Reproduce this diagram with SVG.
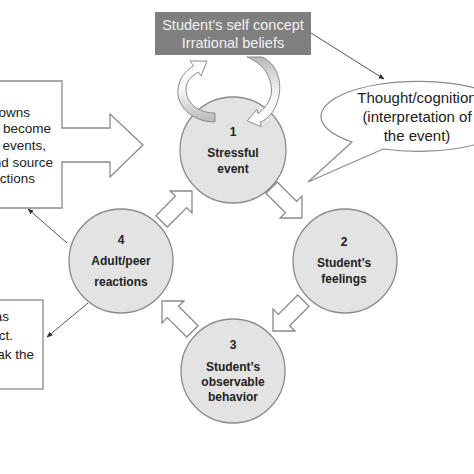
<svg xmlns="http://www.w3.org/2000/svg" width="474" height="474" viewBox="0 0 474 474">
<style>
.bg{fill:#ffffff}
.circ{fill:#e3e3e3;stroke:#8a8a8a;stroke-width:1.3}
.blk{fill:#ffffff;stroke:#8a8a8a;stroke-width:1.3;stroke-linejoin:miter}
.box{fill:#ffffff;stroke:#8a8a8a;stroke-width:1.3}
.thin{fill:none;stroke:#404040;stroke-width:0.9}
.ct{font-family:"Liberation Sans",Arial,sans-serif;font-weight:bold;font-size:12px;fill:#222222;text-anchor:middle}
.tx{font-family:"Liberation Sans",Arial,sans-serif;font-size:13.5px;fill:#222222}
.bt{font-family:"Liberation Sans",Arial,sans-serif;font-size:15px;fill:#222222;text-anchor:middle}
.gt{font-family:"Liberation Sans",Arial,sans-serif;font-size:14.5px;fill:#f2f2f2;text-anchor:middle}
.curl{stroke:#808080;stroke-width:0.9}
</style>
<defs>
<marker id="ah" viewBox="0 0 10 10" refX="9" refY="5" markerWidth="6" markerHeight="6" orient="auto" markerUnits="userSpaceOnUse">
<path d="M0,1 L10,5 L0,9 Z" fill="#303030"/>
</marker>
<linearGradient id="cgL" x1="0" y1="0" x2="0" y2="1">
<stop offset="0" stop-color="#ffffff"/>
<stop offset="0.5" stop-color="#f4f4f4"/>
<stop offset="1" stop-color="#b8b8b8"/>
</linearGradient>
<linearGradient id="cgR" x1="0" y1="0" x2="0" y2="1">
<stop offset="0" stop-color="#b8b8b8"/>
<stop offset="0.5" stop-color="#f4f4f4"/>
<stop offset="1" stop-color="#ffffff"/>
</linearGradient>
<path id="barrow" d="M-43,-8 L-15.5,-8 L-15.5,-15.5 L0,0 L-15.5,15.5 L-15.5,8 L-43,8 Z"/>
</defs>
<rect class="bg" x="0" y="0" width="474" height="474"/>

<g id="selfconcept">
<rect x="155" y="12" width="156" height="43" fill="#7f7f7f"/>
<text class="gt" x="233" y="30">Student’s self concept</text>
<text class="gt" x="233" y="48">Irrational beliefs</text>
</g>

<g id="thought">
<path d="M352,142 L308,182 L383,149 A97,35 0 1,0 352,142 Z" fill="#ffffff" stroke="#8a8a8a" stroke-width="1.2"/>
<text class="bt" x="417" y="103">Thought/cognition</text>
<text class="bt" x="417" y="122">(interpretation of</text>
<text class="bt" x="417" y="141">the event)</text>
</g>

<g id="leftbox">
<path class="box" d="M-2,81 L62,81 L62,128 L110,128 L110,114 L143,145 L110,177 L110,162 L62,162 L62,208 L-2,208 Z"/>
<text class="tx" x="30" y="116.5" text-anchor="end">owns</text>
<text class="tx" x="51" y="132.5" text-anchor="end">y become</text>
<text class="tx" x="46" y="149.5" text-anchor="end">events,</text>
<text class="tx" x="53" y="167" text-anchor="end">nd source</text>
<text class="tx" x="35" y="182.5" text-anchor="end">ctions</text>
</g>

<g id="lowerbox">
<rect class="box" x="-2" y="300" width="45" height="89"/>
<text class="tx" x="9" y="320.5" text-anchor="end">as</text>
<text class="tx" x="13" y="340" text-anchor="end">ct.</text>
<text class="tx" x="34" y="358.5" text-anchor="end">ak the</text>
</g>

<g id="node1">
<circle class="circ" cx="233" cy="150" r="53"/>
<text class="ct" x="233" y="136">1</text>
<text class="ct" x="233" y="156.5">Stressful</text>
<text class="ct" x="233" y="172.5">event</text>
</g>

<g id="node2">
<circle class="circ" cx="345" cy="261" r="52"/>
<text class="ct" x="344" y="246">2</text>
<text class="ct" x="344" y="267">Student’s</text>
<text class="ct" x="344" y="283">feelings</text>
</g>

<g id="node3">
<circle class="circ" cx="233" cy="371" r="52"/>
<text class="ct" x="233" y="349">3</text>
<text class="ct" x="233" y="371">Student’s</text>
<text class="ct" x="233" y="386">observable</text>
<text class="ct" x="233" y="401">behavior</text>
</g>

<g id="node4">
<circle class="circ" cx="121" cy="261" r="52"/>
<text class="ct" x="121" y="244">4</text>
<text class="ct" x="121" y="265">Adult/peer</text>
<text class="ct" x="121" y="286">reactions</text>
</g>

<g id="connectors">
<use href="#barrow" class="blk" transform="translate(192,191) rotate(-45)"/>
<use href="#barrow" class="blk" transform="translate(302,218) rotate(45)"/>
<use href="#barrow" class="blk" transform="translate(273,331) rotate(135)"/>
<use href="#barrow" class="blk" transform="translate(162,301) rotate(-135)"/>
<line class="thin" x1="311" y1="33" x2="384" y2="79" marker-end="url(#ah)"/>
<line class="thin" x1="67" y1="243" x2="28" y2="209" marker-end="url(#ah)"/>
<line class="thin" x1="88" y1="303" x2="47" y2="337" marker-end="url(#ah)"/>
<path class="curl" fill="url(#cgL)" d="M215,122 C192,122 176,106 178,89 C179,79 185,71 193.6,65.8 L190,61 L207,61 L201,76 L198.4,72.2 C191,76 186,82 186,89 C186,103 198,113 215,113 Z"/>
<path class="curl" fill="url(#cgR)" d="M247,57 L262,57 C276,63 282,80 279,95 C277,108 270,118 260.1,122.4 L261.2,126.7 L247.4,120.9 L256.8,109.3 L257.9,113.6 C265,109 271,100 271.5,92 C272,76 262,63 247,57 Z"/>
</g>
</svg>
